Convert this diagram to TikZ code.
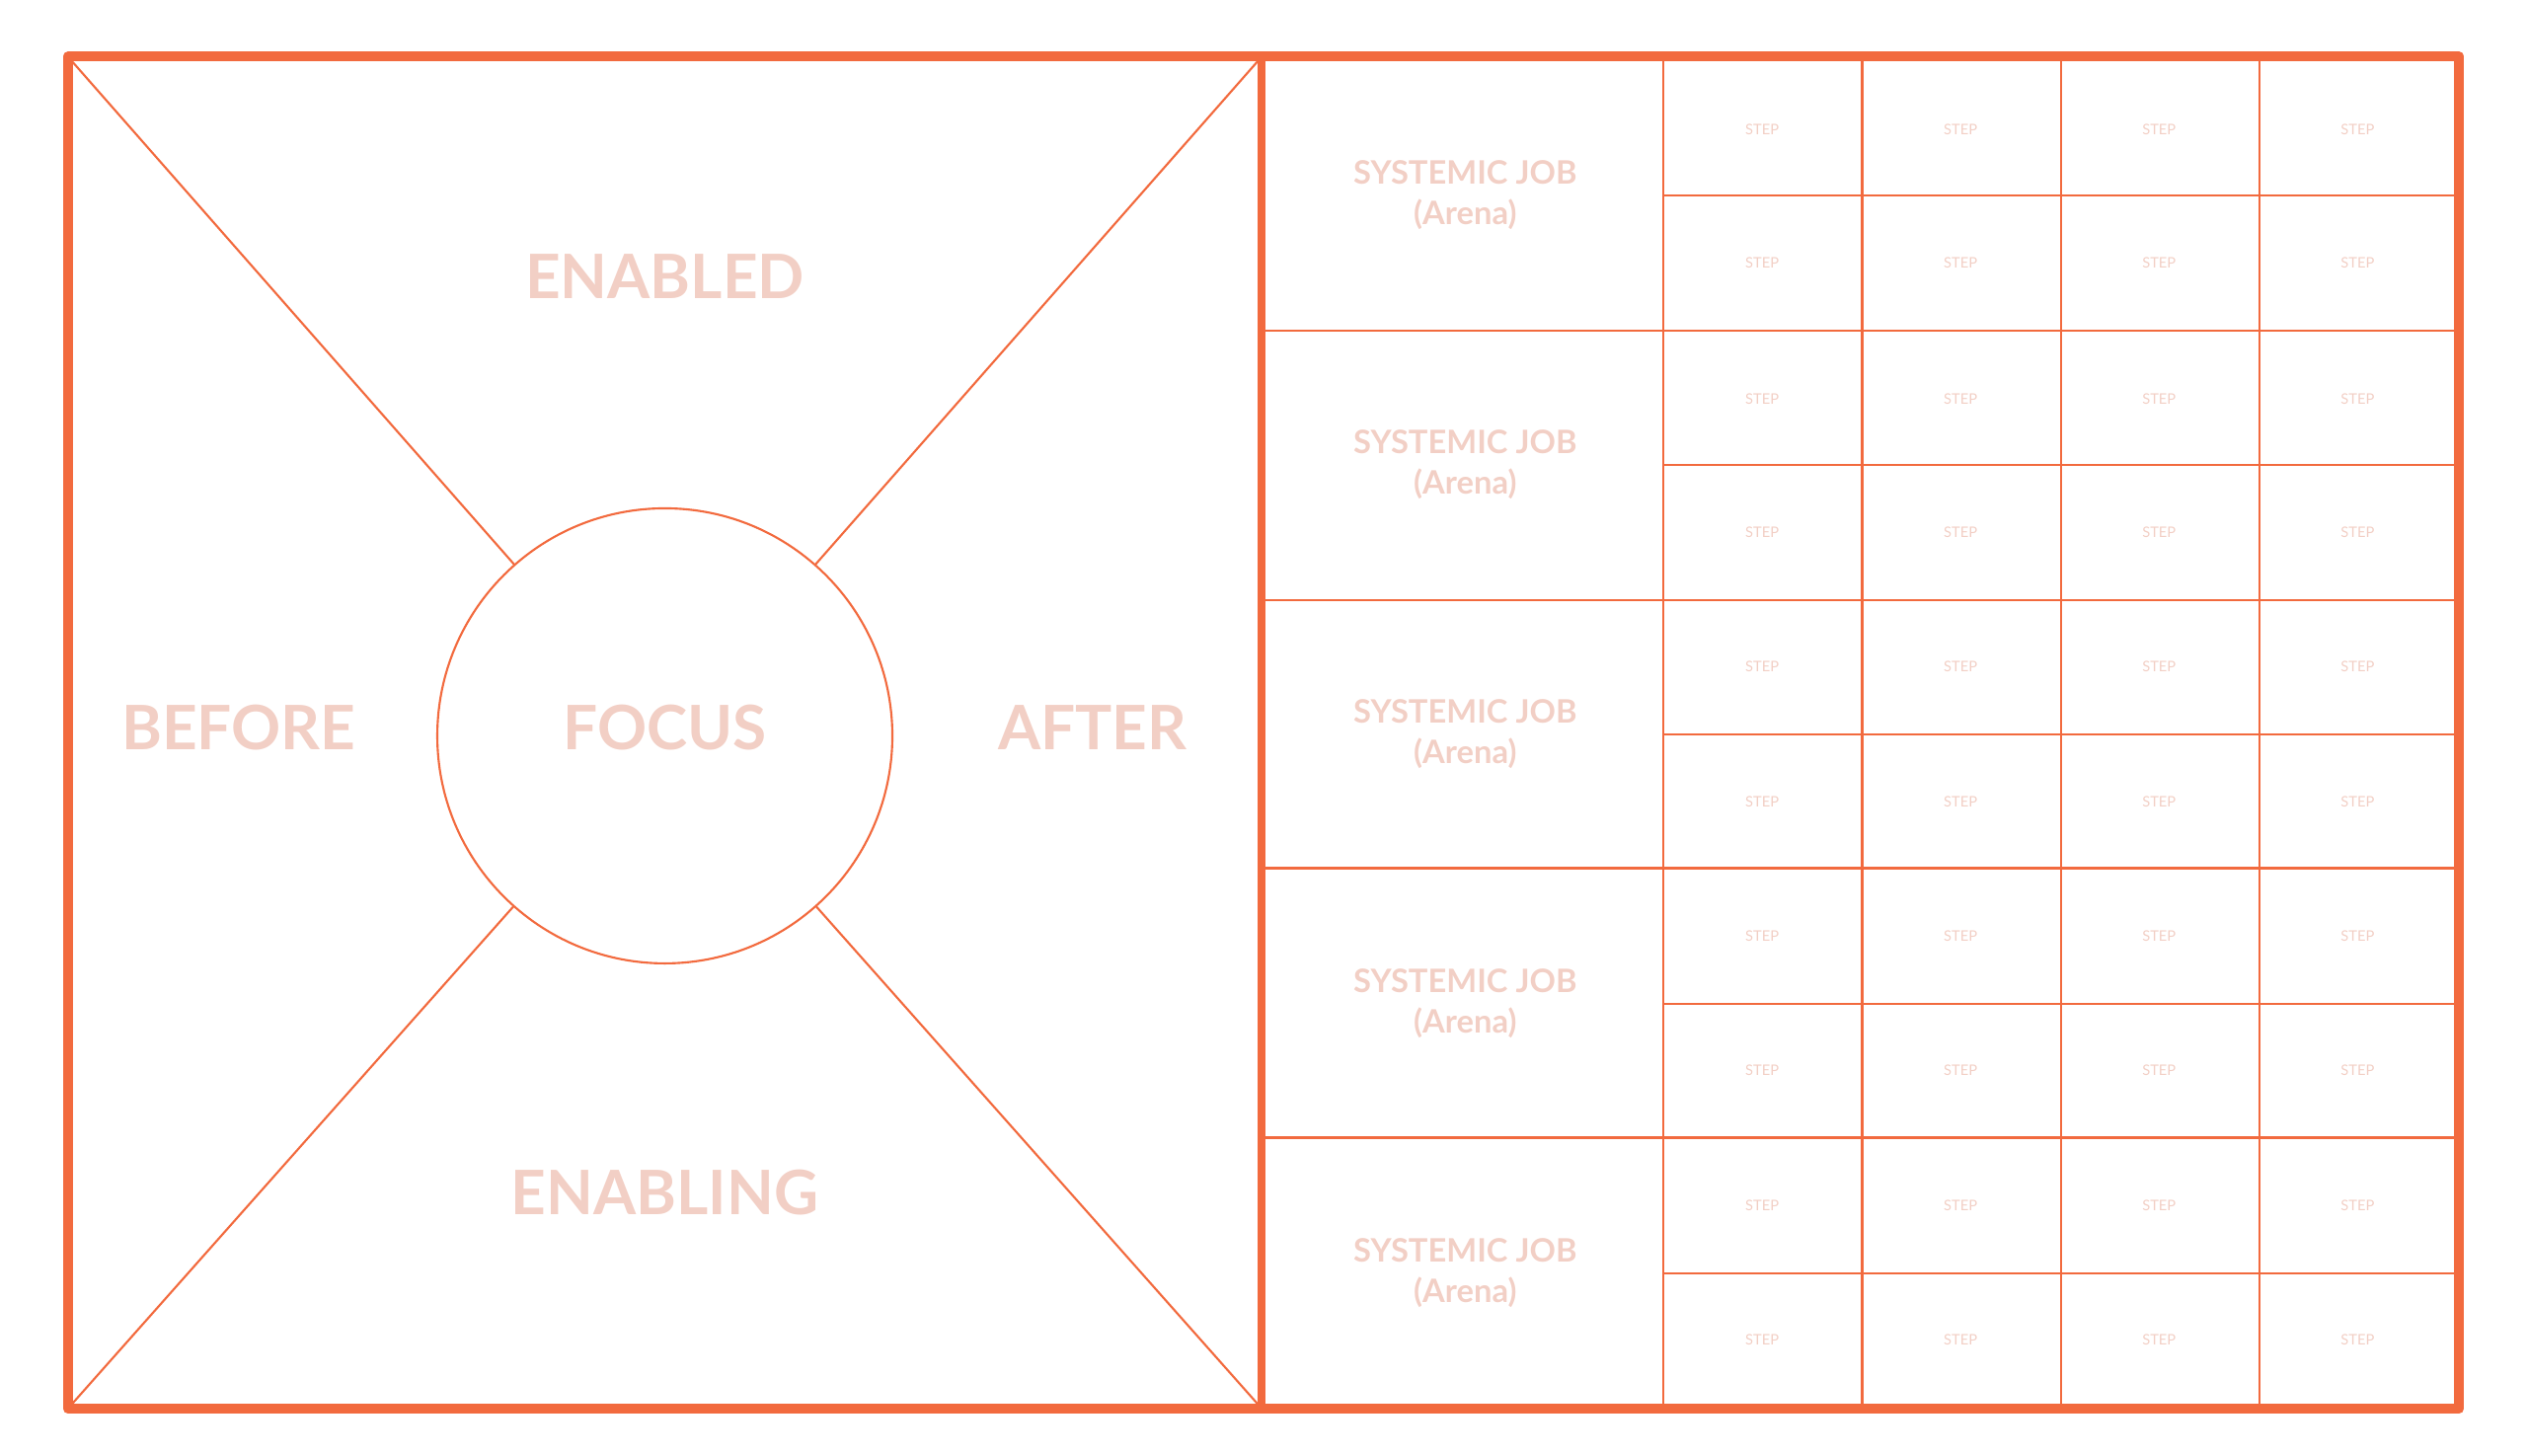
\documentclass[tikz,border=0pt]{standalone}
\usepackage{fontspec}
\setmainfont{Lato}
\usetikzlibrary{calc}
\definecolor{frame}{HTML}{F26A3E}
\definecolor{pale}{HTML}{F2CFC5}
\tikzset{
  thin/.style={draw=frame,line width=1.3pt},
  big/.style={text=pale,font=\fontsize{38}{42}\selectfont\bfseries},
  job/.style={text=pale,font=\fontsize{20}{25}\selectfont\bfseries,align=center},
  steptxt/.style={text=pale,font=\fontsize{9}{10}\selectfont},
}
\begin{document}
\begin{tikzpicture}[x=1pt,y=-1pt]
\useasboundingbox (0,0) rectangle (1566,902);
\coordinate (c) at (412,456);
\coordinate (tl) at (42,35);
\coordinate (tr) at (782,35);
\coordinate (bl) at (42,873);
\coordinate (br) at (782,873);
\node[circle,thin,minimum size=282pt,inner sep=0] (focus) at (c) {};
\foreach \k in {tl,tr,bl,br}
  \draw[thin] (\k) -- ($(c)!141pt!(\k)$);
% grid
\foreach \yy in {121,205,288,372,455,538,622,705,789}
  \draw[thin] (1031,\yy) -- (1521,\yy);
\foreach \yy in {205,372,538,705}
  \draw[thin] (782,\yy) -- (1031,\yy);
\foreach \xx in {1031,1154,1277,1400}
  \draw[thin] (\xx,35) -- (\xx,873);
\draw[frame,line width=5pt] (782,35) -- (782,873);
\draw[frame,line width=6pt,line join=round] (tl) rectangle (1524,873);
% texts
\node[big] (enabled) at (412,171) {ENABLED};
\node[big] (enabling) at (412,739) {ENABLING};
\node[big] (before) at (148,451) {BEFORE};
\node[big] (after) at (677,451) {AFTER};
\node[big] (ftext) at (412,451) {FOCUS};
\foreach \i/\yy in {1/121,2/288,3/455,4/622,5/789}
  \node[job] (job\i) at (908,\yy) {SYSTEMIC JOB\\(Arena)};
\foreach \r/\yy in {1/80,2/163,3/247,4/330,5/413,6/497,7/580,8/663,9/747,10/830}
  \foreach \cc/\xx in {1/1092,2/1215,3/1338,4/1461}
    \node[steptxt] (s\r-\cc) at (\xx,\yy) {STEP};
\end{tikzpicture}
\end{document}
